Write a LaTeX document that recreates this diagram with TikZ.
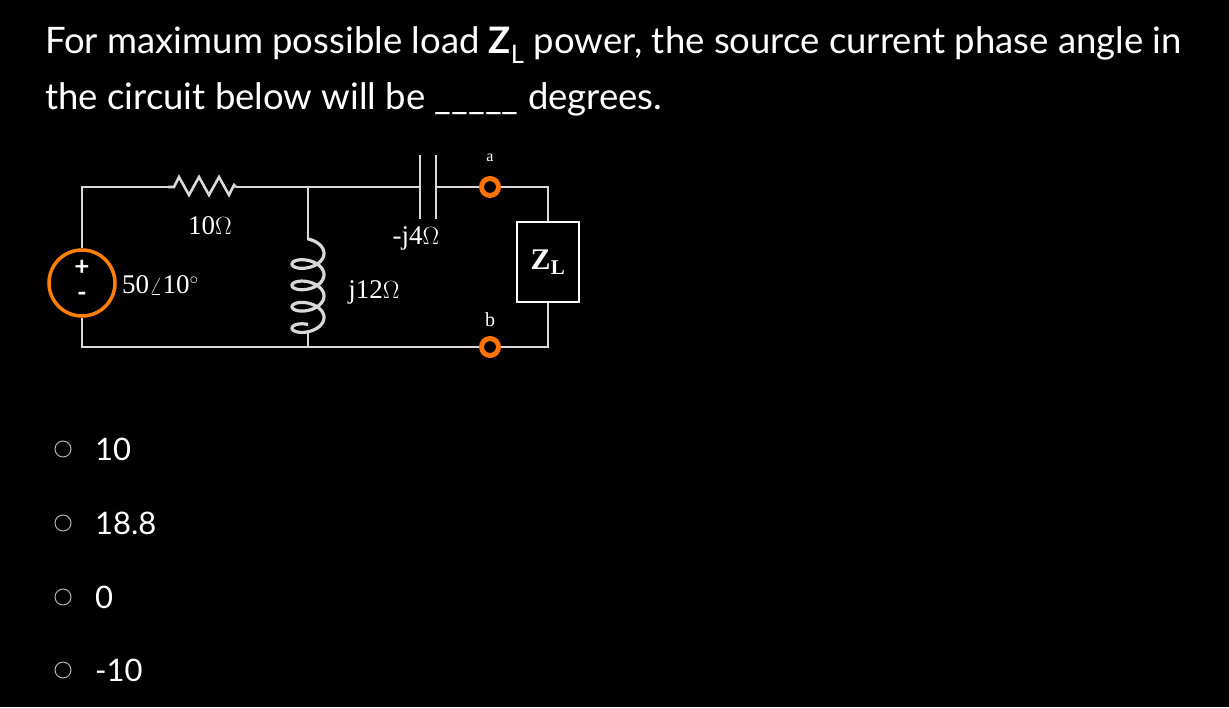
\documentclass[tikz,border=0pt]{standalone}
\usepackage{fontspec}
\setmainfont{Lato}
\newfontfamily\serif{Liberation Serif}
\begin{document}
\begin{tikzpicture}[x=1pt,y=-1pt,
  wire/.style={draw=white!85!black,line width=2.6pt},
  lbl/.style={text=white,font=\serif\fontsize{27}{27}\selectfont,inner sep=0pt},
  term/.style={circle,fill=black,draw=orange!90!red,line width=5pt,minimum size=17pt,inner sep=0pt},
  radio/.style={circle,draw=white!70!black,line width=1pt,minimum size=16pt,inner sep=0pt},
  opt/.style={text=white,font=\fontsize{31}{31}\selectfont,anchor=west,inner sep=0pt}]
\fill[black] (0,0) rectangle (1229,707);
\useasboundingbox (0,0) rectangle (1229,707);
\node[text=white,anchor=west,inner sep=0pt,font=\fontsize{36.5}{36}\selectfont] (q1) at (45,45) {For maximum possible load $\mathbf{Z}_\mathrm{L}$ power, the source current phase angle in};
\node[text=white,anchor=west,inner sep=0pt,font=\fontsize{36.5}{36}\selectfont] (q2) at (45,99) {the circuit below will be \_\_\_\_\_ degrees.};
\coordinate (tl) at (82,187); \coordinate (bl) at (82,347);
\coordinate (r1) at (168,187); \coordinate (r2) at (236,187);
\coordinate (nt) at (308,187); \coordinate (nb) at (308,347);
\coordinate (c1) at (420,187); \coordinate (c2) at (436,187);
\coordinate (tr) at (548,187); \coordinate (br) at (548,347);
\node[circle,draw=orange,line width=3.5pt,minimum size=66pt,inner sep=0pt] (src) at (82,283) {};
\node[draw=white,line width=2.8pt,minimum width=62pt,minimum height=80pt,inner sep=0pt,font=\serif\bfseries\fontsize{30}{30}\selectfont,text=white] (zl) at (548,262) {Z\textsubscript{L}};
\path[wire] (src.north) -- (tl) -- (r1);
\path[wire] (r1) -- ++(6,0) -- ++(5,-10) -- ++(10,18) -- ++(10,-18) -- ++(10,18) -- ++(10,-18) -- ++(10,18) -- ++(5,-10) -- (r2);
\path[wire] (r2) -- (nt) -- (c1);
\path[wire] (c1) ++(0,-32) -- ++(0,64);
\path[wire] (c2) ++(0,-32) -- ++(0,64);
\path[wire] (c2) -- (tr) -- (zl.north);
\path[wire] (zl.south) -- (br) -- (nb) -- (bl) -- (src.south);
\node[term] (a) at (490,187) {};
\node[term] (b) at (490,347) {};
\path[wire] (nt) -- (308,240);
\path[wire,line width=3.2pt] plot[domain=-90:1350,samples=200,smooth] ({308+16*cos(\x)}, {248+3.4*(\x+90)*3.14159/180+9*sin(\x)});
\path[wire] (308,333) -- (nb);
\node[text=white,font=\bfseries\fontsize{26}{26}\selectfont] (plus) at (82,268) {+};
\node[text=white,font=\bfseries\fontsize{26}{26}\selectfont] (minus) at (82,297) {-};
\node[lbl] (l1) at (210,226) {10$\Omega$};
\node[lbl] (l2) at (416,238) {-j4$\Omega$};
\node[lbl] (l3) at (374,292) {j12$\Omega$};
\node[lbl,anchor=west] (l4) at (122,285) {50$\angle$10$^\circ$};
\node[lbl,font=\serif\fontsize{16}{16}\selectfont] (la) at (490,158) {a};
\node[lbl,font=\serif\fontsize{20}{20}\selectfont] (lb) at (490,320) {b};
\foreach \y/\t [count=\i] in {449/10,523/18.8,597/0,670/-10}{
  \node[radio] (o\i) at (63,\y) {};
  \node[opt] (t\i) at (95,\y) {\t};
}
\end{tikzpicture}
\end{document}
